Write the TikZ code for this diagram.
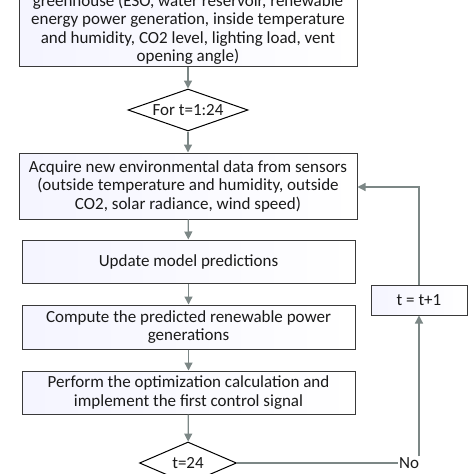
\documentclass[tikz,border=0pt]{standalone}
\usepackage{fontspec}
\setmainfont{Carlito}
\usetikzlibrary{arrows.meta,shapes.geometric}
\definecolor{arr}{HTML}{7C8786}
\definecolor{bord}{HTML}{3A3A3A}
\definecolor{txt}{HTML}{1A1A1A}
\tikzset{
  box/.style={draw=bord, line width=1pt, left color=blue!4!white, right color=white, align=center, inner sep=2pt,
    text=txt, font=\fontsize{17}{18.5}\selectfont},
  dia/.style={draw=black, line width=1pt, diamond, aspect=2.8, inner sep=0pt, fill=white,
    text=txt, font=\fontsize{17}{18}\selectfont},
  arrow/.style={draw=arr, line width=1.3pt, -{Triangle[width=8pt,length=8pt]}},
  line/.style={draw=arr, line width=1.3pt}
}
\begin{document}
\begin{tikzpicture}[x=1pt,y=-1pt]
\useasboundingbox (0,0) rectangle (474,474);
\clip (0,0) rectangle (474,474);
\node[box, minimum width=338pt, minimum height=74pt] (init) at (188,29)
  {greenhouse (ESO, water reservoir, renewable\\energy power generation, inside temperature\\and humidity, CO2 level, lighting load, vent\\opening angle)};
\node[dia, minimum width=120pt, minimum height=42pt] (for) at (188,110) {For t=1:24};
\node[box, minimum width=338pt, minimum height=66pt] (acq) at (188,186)
  {Acquire new environmental data from sensors\\(outside temperature and humidity, outside\\CO2, solar radiance, wind speed)};
\node[box, minimum width=333pt, minimum height=43pt] (upd) at (188.5,261.5) {Update model predictions};
\node[box, minimum width=333pt, minimum height=44pt] (comp) at (188.5,327) {Compute the predicted renewable power\\generations};
\node[box, minimum width=333pt, minimum height=43pt] (opt) at (188.5,392.5) {Perform the optimization calculation and\\implement the first control signal};
\node[dia, minimum width=97pt, minimum height=42pt] (end) at (188,463) {t=24};
\node[box, minimum width=96pt, minimum height=30pt] (inc) at (419,300) {t = t+1};
\node[font=\fontsize{17}{18}\selectfont, text=txt, inner sep=1pt] (no) at (409,463) {No};
\coordinate (turn) at (419,187);
\draw[arrow] (init) -- (for);
\draw[arrow] (for) -- (acq);
\draw[arrow] (acq) -- (upd);
\draw[arrow] (upd) -- (comp);
\draw[arrow] (comp) -- (opt);
\draw[arrow] (opt) -- (end);
\draw[line] (end.east) -- (no.west);
\draw[arrow] (no.north -| inc.south) -- (inc.south);
\draw[arrow] (inc.north) -- (turn) -- (acq.east |- turn);
\end{tikzpicture}
\end{document}
